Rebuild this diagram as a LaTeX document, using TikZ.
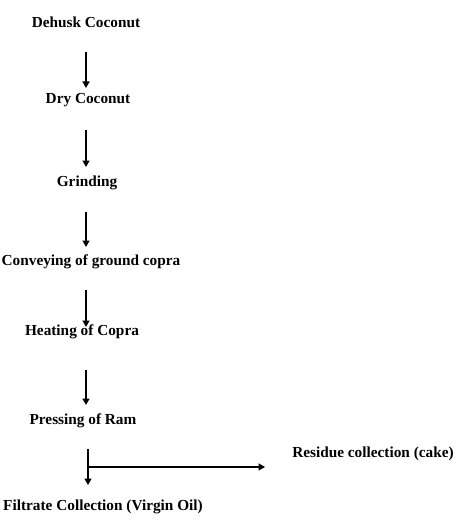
\documentclass[tikz,border=0pt]{standalone}
\usepackage{fontspec}
\setmainfont{Liberation Serif}
\usetikzlibrary{arrows.meta,calc}
\begin{document}
\begin{tikzpicture}[x=1pt,y=-1pt,
  lbl/.style={inner sep=0pt,font=\fontsize{15.3}{18}\selectfont\bfseries},
  arr/.style={line width=1.5pt,-{Triangle[length=6.5pt,width=7pt]}}]
\useasboundingbox (0,0) rectangle (474,524);
\coordinate (ax) at (86,0);
\coordinate (bx) at (88,0);
\node[lbl] (dehusk) at (86,22) {Dehusk Coconut};
\node[lbl] (dry) at (88,100) {Dry Coconut};
\node[lbl] (grind) at (87,183) {Grinding};
\node[lbl] (convey) at (91,262) {Conveying of ground copra};
\node[lbl] (heat) at (82,332) {Heating of Copra};
\node[lbl] (press) at (83,421) {Pressing of Ram};
\node[lbl] (filt) at (103,507) {Filtrate Collection (Virgin Oil)};
\node[lbl] (res) at (373,454) {Residue collection (cake)};
\draw[arr] ([yshift=-30pt]dehusk.center -| ax) -- ([yshift=12pt]dry.center -| ax);
\draw[arr] ([yshift=-30pt]dry.center -| ax) -- ([yshift=16pt]grind.center -| ax);
\draw[arr] ([yshift=-29pt]grind.center -| ax) -- ([yshift=15pt]convey.center -| ax);
\draw[arr] ([yshift=-28pt]convey.center -| ax) -- ([yshift=5pt]heat.center -| ax);
\draw[arr] ([yshift=-38pt]heat.center -| ax) -- ([yshift=16pt]press.center -| ax);
\draw[arr] ([yshift=-28pt]press.center -| bx) -- ([yshift=22pt]filt.center -| bx);
\coordinate (br) at (88,467);
\draw[arr,line width=1.3pt,shorten >=27pt] (br) -- (br -| res.west);
\end{tikzpicture}
\end{document}
